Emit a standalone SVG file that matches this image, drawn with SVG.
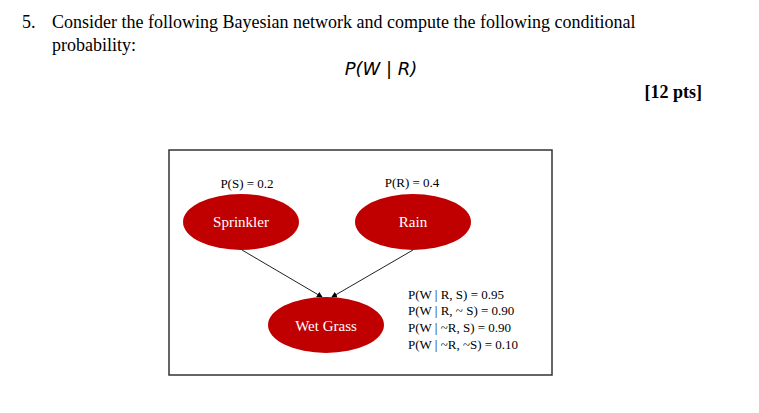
<svg xmlns="http://www.w3.org/2000/svg" width="759" height="413" viewBox="0 0 759 413">
<defs>
<style>
.t{font-family:"Liberation Serif",serif;fill:#000}
.n{fill:#c00000}
.w{font-family:"Liberation Serif",serif;fill:#fff;font-size:15px;text-anchor:middle}
.s{font-size:13px}
</style>
<marker id="a" markerWidth="6" markerHeight="6" refX="5" refY="3" orient="auto"><path d="M0,0 L6,3 L0,6z" fill="#000"/></marker>
</defs>
<rect width="759" height="413" fill="#fff"/>
<text class="t" x="22" y="28" font-size="18">5.</text>
<text class="t" x="52" y="28" font-size="18">Consider the following Bayesian network and compute the following conditional</text>
<text class="t" x="52" y="51" font-size="18">probability:</text>
<text x="381" y="75" font-size="18" text-anchor="middle" font-family="'DejaVu Sans',sans-serif" font-style="italic">P(W | R)</text>
<text class="t" x="702" y="98" font-size="18" font-weight="bold" text-anchor="end">[12 pts]</text>
<rect x="169" y="150" width="383" height="225" fill="#fff" stroke="#333" stroke-width="1.5"/>
<g id="connectors" stroke="#222" stroke-width="1">
<line x1="242" y1="250" x2="322" y2="297" marker-end="url(#a)"/>
<line x1="413" y1="250" x2="332" y2="297" marker-end="url(#a)"/>
</g>
<g id="sprinkler"><ellipse class="n" cx="241" cy="222" rx="58" ry="28"/><text class="w" x="241" y="227">Sprinkler</text><text class="t s" x="247" y="188" text-anchor="middle">P(S) = 0.2</text></g>
<g id="rain"><ellipse class="n" cx="413" cy="222" rx="58" ry="28"/><text class="w" x="413" y="227">Rain</text><text class="t s" x="412" y="187" text-anchor="middle">P(R) = 0.4</text></g>
<g id="wetgrass"><ellipse class="n" cx="326" cy="325" rx="58" ry="28"/><text class="w" x="326" y="331">Wet Grass</text></g>
<g id="cpt" class="t s">
<text class="t s" x="408" y="299">P(W | R, S) = 0.95</text>
<text class="t s" x="408" y="315">P(W | R, ~ S) = 0.90</text>
<text class="t s" x="408" y="332">P(W | ~R, S) = 0.90</text>
<text class="t s" x="408" y="349">P(W | ~R, ~S) = 0.10</text>
</g>
</svg>
